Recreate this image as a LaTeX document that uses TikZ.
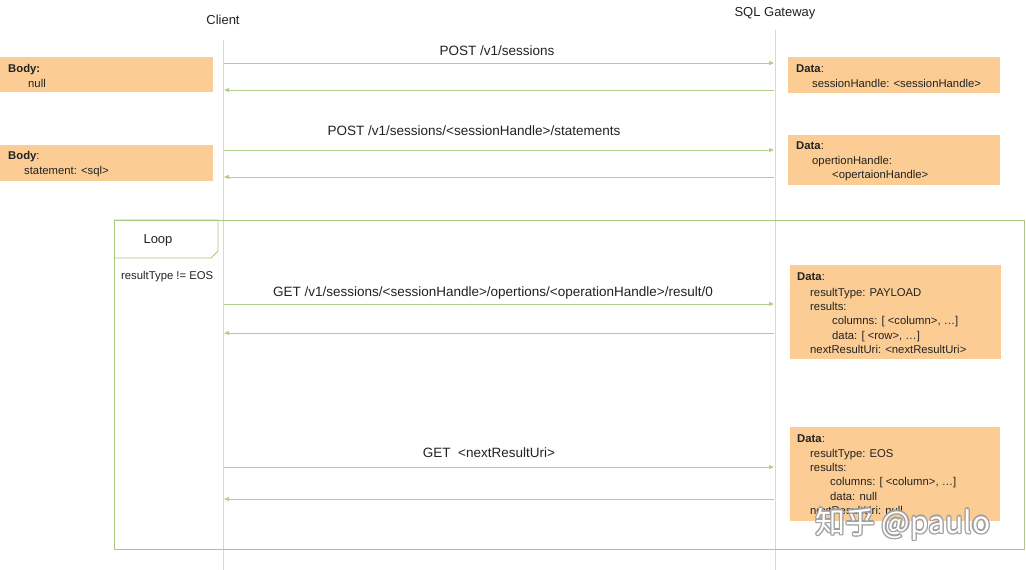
\documentclass[tikz,border=0pt]{standalone}
\usepackage{fontspec}
\setmainfont{Liberation Sans}
\newfontfamily\cjk{Noto Sans CJK SC}
\usetikzlibrary{arrows.meta}
\definecolor{boxfill}{HTML}{FBCD95}
\definecolor{lifeline}{HTML}{D5DCC2}
\definecolor{msg}{HTML}{B5CE8C}
\definecolor{frame}{HTML}{A9C980}
\definecolor{txt}{HTML}{222222}
\begin{document}
\begin{tikzpicture}[x=1pt,y=-1pt,
  msgarrow/.style={draw=msg, line width=0.8pt, -{Triangle[length=5pt,width=4pt,fill=msg]}},
  lifelinestyle/.style={draw=lifeline, line width=0.9pt},
  actor/.style={font=\fontsize{13}{15}\selectfont, text=txt, inner sep=0pt},
  msglabel/.style={font=\fontsize{13.5}{15}\selectfont, text=txt, inner sep=0pt, anchor=base},
  boxtxt/.style={font=\fontsize{11.3}{13}\selectfont, text=txt, inner sep=0pt, anchor=base west},
  notebox/.style={fill=boxfill, draw=none},
  framestyle/.style={draw=frame, line width=0.9pt},
  wmark/.style={font=\cjk\fontsize{30}{32}\selectfont, inner sep=0pt, anchor=base west}
]
\useasboundingbox (0,0) rectangle (1026,570);
\fill[white] (0,0) rectangle (1026,570);

% actors and lifelines
\node[actor] (client) at (223,20) {Client};
\node[actor] (gateway) at (775,13) {SQL Gateway};
\coordinate (cTop) at (223,40);
\coordinate (cBot) at (223,570);
\coordinate (gTop) at (775,30);
\coordinate (gBot) at (775,570);
\draw[lifelinestyle] (cTop) -- (cBot);
\draw[lifelinestyle] (gTop) -- (gBot);

% loop frame
\draw[framestyle] (114,220) rectangle (1024,549);
\draw[framestyle] (114,220) -- (218,220) -- (218,251) -- (211,258) -- (114,258);
\node[actor] (loop) at (158,240) {Loop};
\node[boxtxt] (cond) at (121,279) {resultType != EOS};

% message endpoints
\foreach \n/\y in {a/63,b/90,c/150,d/177,e/304,f/333,g/467,h/499}{
  \coordinate (c\n) at (224,\y);
  \coordinate (g\n) at (774,\y);
}
\draw[msgarrow] (ca) -- (ga);
\draw[msgarrow] (gb) -- (cb);
\draw[msgarrow] (cc) -- (gc);
\draw[msgarrow] (gd) -- (cd);
\draw[msgarrow] (ce) -- (ge);
\draw[msgarrow] (gf) -- (cf);
\draw[msgarrow] (cg) -- (gg);
\draw[msgarrow] (gh) -- (ch);

\node[msglabel] (m1) at (497,55) {POST /v1/sessions};
\node[msglabel] (m2) at (474,135) {POST /v1/sessions/<sessionHandle>/statements};
\node[msglabel] (m3) at (493,296) {GET /v1/sessions/<sessionHandle>/opertions/<operationHandle>/result/0};
\node[msglabel] (m4) at (489,457) {GET\ \ <nextResultUri>};

% body boxes (client side)
\fill[notebox] (0,57) rectangle (213,92);
\node[boxtxt] (b1a) at (8,72) {\textbf{Body:}};
\node[boxtxt] (b1b) at (28,87) {null};
\fill[notebox] (0,145) rectangle (213,181);
\node[boxtxt] (b2a) at (8,159) {\textbf{Body}:};
\node[boxtxt] (b2b) at (24,174) {statement: <sql>};

% data boxes (gateway side)
\fill[notebox] (788,57) rectangle (1000,93);
\node[boxtxt] (d1a) at (796,72) {\textbf{Data}:};
\node[boxtxt] (d1b) at (812,87) {sessionHandle: <sessionHandle>};

\fill[notebox] (788,135) rectangle (1000,185);
\node[boxtxt] (d2a) at (796,149) {\textbf{Data}:};
\node[boxtxt] (d2b) at (812,164) {opertionHandle:};
\node[boxtxt] (d2c) at (832,178) {<opertaionHandle>};

\fill[notebox] (790,265) rectangle (1001,359);
\node[boxtxt] (d3a) at (797,280) {\textbf{Data}:};
\node[boxtxt] (d3b) at (810,296) {resultType: PAYLOAD};
\node[boxtxt] (d3c) at (810,310) {results:};
\node[boxtxt] (d3d) at (832,324) {columns: [ <column>, \textellipsis]};
\node[boxtxt] (d3e) at (832,339) {data: [ <row>, \textellipsis]};
\node[boxtxt] (d3f) at (810,353) {nextResultUri: <nextResultUri>};

\fill[notebox] (790,427) rectangle (1000,521);
\node[boxtxt] (d4a) at (797,442) {\textbf{Data}:};
\node[boxtxt] (d4b) at (810,457) {resultType: EOS};
\node[boxtxt] (d4c) at (810,471) {results:};
\node[boxtxt] (d4d) at (830,485) {columns: [ <column>, \textellipsis]};
\node[boxtxt] (d4e) at (830,500) {data: null};
\node[boxtxt] (d4f) at (810,514) {nextResultUri: null};

% watermark
\foreach \dx/\dy in {-1.2/0,1.2/0,0/-1.2,0/1.2,-1/-1,1/1,-1/1,1/-1}{
  \node[wmark, text=gray!75] at ({815+\dx},{533+\dy}) {知乎 @paulo};
}
\node[wmark, text=white] (wm) at (815,533) {知乎 @paulo};
\end{tikzpicture}
\end{document}
